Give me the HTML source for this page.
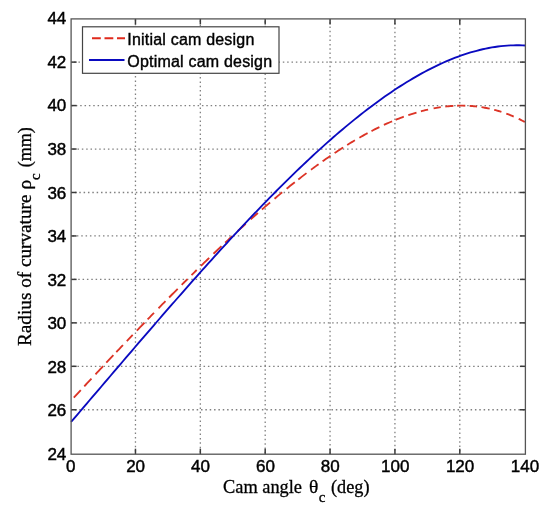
<!DOCTYPE html>
<html><head><meta charset="utf-8"><title>Radius of curvature vs cam angle</title><style>
html,body{margin:0;padding:0;background:#fff;}
svg{display:block;}
.tk{font-family:"Liberation Sans",Arial,sans-serif;font-size:17px;fill:#000;stroke:#000;stroke-width:0.45px;}
.lg{font-family:"Liberation Sans",Arial,sans-serif;font-size:16px;letter-spacing:0.2px;fill:#000;stroke:#000;stroke-width:0.4px;}
.lb{font-family:"Liberation Serif","Times New Roman",serif;font-size:19.5px;fill:#000;stroke:#000;stroke-width:0.3px;}
</style></head><body>
<svg width="550" height="513" viewBox="0 0 550 513">
<rect width="550" height="513" fill="#fff"/>
<g stroke="#808080" stroke-width="1.3" stroke-dasharray="1.5 2.848" fill="none">
<line x1="135.46" y1="18.90" x2="135.46" y2="454.20" stroke-dashoffset="3.726"/><line x1="200.33" y1="18.90" x2="200.33" y2="454.20" stroke-dashoffset="2.726"/><line x1="265.19" y1="18.90" x2="265.19" y2="454.20" stroke-dashoffset="1.878"/><line x1="330.06" y1="18.90" x2="330.06" y2="454.20" stroke-dashoffset="1.098"/><line x1="394.93" y1="18.90" x2="394.93" y2="454.20" stroke-dashoffset="0.288"/><line x1="459.80" y1="18.90" x2="459.80" y2="454.20" stroke-dashoffset="3.746"/><line x1="71.10" y1="62.11" x2="525.40" y2="62.11" stroke-dashoffset="1.342"/><line x1="71.10" y1="105.57" x2="525.40" y2="105.57" stroke-dashoffset="3.950"/><line x1="71.10" y1="149.03" x2="525.40" y2="149.03" stroke-dashoffset="2.310"/><line x1="71.10" y1="192.48" x2="525.40" y2="192.48" stroke-dashoffset="0.532"/><line x1="71.10" y1="235.94" x2="525.40" y2="235.94" stroke-dashoffset="2.900"/><line x1="71.10" y1="279.40" x2="525.40" y2="279.40" stroke-dashoffset="1.562"/><line x1="71.10" y1="322.86" x2="525.40" y2="322.86" stroke-dashoffset="4.160"/><line x1="71.10" y1="366.32" x2="525.40" y2="366.32" stroke-dashoffset="2.330"/><line x1="71.10" y1="409.77" x2="525.40" y2="409.77" stroke-dashoffset="0.532"/>
</g>
<g stroke="#3a3a3a" stroke-width="1.5" fill="none"><line x1="135.46" y1="454.20" x2="135.46" y2="448.70"/><line x1="135.46" y1="18.90" x2="135.46" y2="24.40"/><line x1="200.33" y1="454.20" x2="200.33" y2="448.70"/><line x1="200.33" y1="18.90" x2="200.33" y2="24.40"/><line x1="265.19" y1="454.20" x2="265.19" y2="448.70"/><line x1="265.19" y1="18.90" x2="265.19" y2="24.40"/><line x1="330.06" y1="454.20" x2="330.06" y2="448.70"/><line x1="330.06" y1="18.90" x2="330.06" y2="24.40"/><line x1="394.93" y1="454.20" x2="394.93" y2="448.70"/><line x1="394.93" y1="18.90" x2="394.93" y2="24.40"/><line x1="459.80" y1="454.20" x2="459.80" y2="448.70"/><line x1="459.80" y1="18.90" x2="459.80" y2="24.40"/><line x1="71.10" y1="409.77" x2="76.60" y2="409.77"/><line x1="525.40" y1="409.77" x2="519.90" y2="409.77"/><line x1="71.10" y1="366.32" x2="76.60" y2="366.32"/><line x1="525.40" y1="366.32" x2="519.90" y2="366.32"/><line x1="71.10" y1="322.86" x2="76.60" y2="322.86"/><line x1="525.40" y1="322.86" x2="519.90" y2="322.86"/><line x1="71.10" y1="279.40" x2="76.60" y2="279.40"/><line x1="525.40" y1="279.40" x2="519.90" y2="279.40"/><line x1="71.10" y1="235.94" x2="76.60" y2="235.94"/><line x1="525.40" y1="235.94" x2="519.90" y2="235.94"/><line x1="71.10" y1="192.48" x2="76.60" y2="192.48"/><line x1="525.40" y1="192.48" x2="519.90" y2="192.48"/><line x1="71.10" y1="149.03" x2="76.60" y2="149.03"/><line x1="525.40" y1="149.03" x2="519.90" y2="149.03"/><line x1="71.10" y1="105.57" x2="76.60" y2="105.57"/><line x1="525.40" y1="105.57" x2="519.90" y2="105.57"/><line x1="71.10" y1="62.11" x2="76.60" y2="62.11"/><line x1="525.40" y1="62.11" x2="519.90" y2="62.11"/></g>
<path d="M73.80,397.65 L75.20,396.14 L76.60,394.62 L78.00,393.11 L79.40,391.59 L80.80,390.08M84.30,386.30 L85.74,384.75 L87.18,383.20 L88.62,381.65 L90.06,380.10 L91.50,378.56M95.50,374.27 L97.02,372.64 L98.54,371.01 L100.06,369.39 L101.58,367.77 L103.10,366.15M106.30,362.74 L107.72,361.23 L109.14,359.72 L110.56,358.21 L111.98,356.71 L113.40,355.20M116.30,352.13 L117.64,350.72 L118.98,349.31 L120.32,347.89 L121.66,346.48 L123.00,345.07M126.80,341.08 L127.98,339.84 L129.16,338.61 L130.34,337.37 L131.52,336.14 L132.70,334.91M136.80,330.63 L138.34,329.03 L139.88,327.43 L141.42,325.83 L142.96,324.24 L144.50,322.64M147.60,319.44 L148.88,318.12 L150.16,316.80 L151.44,315.48 L152.72,314.17 L154.00,312.86M158.50,308.25 L159.90,306.82 L161.30,305.39 L162.70,303.97 L164.10,302.55 L165.50,301.12M169.10,297.48 L170.82,295.74 L172.54,294.01 L174.26,292.28 L175.98,290.55 L177.70,288.83M181.70,284.83 L182.86,283.67 L184.02,282.52 L185.18,281.37 L186.34,280.22 L187.50,279.07M191.50,275.12 L192.54,274.09 L193.58,273.07 L194.62,272.05 L195.66,271.03 L196.70,270.01M200.90,265.92 L202.56,264.30 L204.22,262.69 L205.88,261.09 L207.54,259.49 L209.20,257.89M213.50,253.77 L215.10,252.24 L216.70,250.72 L218.30,249.20 L219.90,247.68 L221.50,246.17M225.20,242.70 L226.60,241.39 L228.00,240.08 L229.40,238.77 L230.80,237.47 L232.20,236.18M237.80,231.02 L239.38,229.58 L240.96,228.14 L242.54,226.70 L244.12,225.27 L245.70,223.84M250.70,219.36 L252.14,218.08 L253.58,216.80 L255.02,215.53 L256.46,214.26 L257.90,212.99M261.90,209.50 L263.54,208.08 L265.18,206.66 L266.82,205.25 L268.46,203.85 L270.10,202.45M274.50,198.73 L276.04,197.44 L277.58,196.15 L279.12,194.87 L280.66,193.60 L282.20,192.33M286.60,188.73 L288.24,187.41 L289.88,186.09 L291.52,184.77 L293.16,183.47 L294.80,182.17M298.30,179.42 L299.94,178.15 L301.58,176.88 L303.22,175.62 L304.86,174.36 L306.50,173.12M311.00,169.74 L312.52,168.62 L314.04,167.50 L315.56,166.38 L317.08,165.28 L318.60,164.18M322.60,161.33 L324.18,160.21 L325.76,159.11 L327.34,158.01 L328.92,156.92 L330.50,155.84M334.60,153.08 L336.32,151.94 L338.04,150.80 L339.76,149.68 L341.48,148.57 L343.20,147.48M347.20,144.96 L348.74,144.01 L350.28,143.07 L351.82,142.14 L353.36,141.21 L354.90,140.30M359.40,137.68 L361.04,136.75 L362.68,135.83 L364.32,134.92 L365.96,134.02 L367.60,133.13M371.50,131.06 L373.08,130.25 L374.66,129.44 L376.24,128.65 L377.82,127.86 L379.40,127.09M383.90,124.95 L385.54,124.20 L387.18,123.46 L388.82,122.73 L390.46,122.02 L392.10,121.31M395.60,119.86 L397.24,119.20 L398.88,118.56 L400.52,117.93 L402.16,117.31 L403.80,116.71M408.30,115.12 L409.94,114.58 L411.58,114.04 L413.22,113.52 L414.86,113.02 L416.50,112.53M420.90,111.30 L422.34,110.92 L423.78,110.55 L425.22,110.20 L426.66,109.86 L428.10,109.53M433.60,108.39 L435.04,108.12 L436.48,107.87 L437.92,107.63 L439.36,107.40 L440.80,107.19M445.30,106.61 L446.92,106.43 L448.54,106.28 L450.16,106.14 L451.78,106.01 L453.40,105.91M457.10,105.74 L458.74,105.70 L460.38,105.68 L462.02,105.67 L463.66,105.69 L465.30,105.72M469.60,105.91 L471.08,106.01 L472.56,106.12 L474.04,106.25 L475.52,106.40 L477.00,106.57M481.50,107.18 L483.14,107.44 L484.78,107.72 L486.42,108.03 L488.06,108.36 L489.70,108.71M494.20,109.79 L495.64,110.18 L497.08,110.58 L498.52,110.99 L499.96,111.43 L501.40,111.89M506.30,113.57 L507.78,114.13 L509.26,114.70 L510.74,115.29 L512.22,115.91 L513.70,116.54M518.70,118.84 L519.94,119.44 L521.18,120.07 L522.42,120.70 L523.66,121.35 L524.90,122.02" fill="none" stroke="#dc3426" stroke-width="1.85"/>
<path d="M71.10,421.94 L74.15,418.37 L77.20,414.81 L80.25,411.24 L83.30,407.67 L86.34,404.09 L89.39,400.52 L92.44,396.95 L95.49,393.38 L98.54,389.80 L101.59,386.23 L104.64,382.66 L107.69,379.08 L110.74,375.51 L113.79,371.94 L116.83,368.38 L119.88,364.81 L122.93,361.25 L125.98,357.68 L129.03,354.12 L132.08,350.57 L135.13,347.02 L138.18,343.47 L141.23,339.92 L144.28,336.38 L147.32,332.84 L150.37,329.31 L153.42,325.78 L156.47,322.25 L159.52,318.74 L162.57,315.22 L165.62,311.72 L168.67,308.22 L171.72,304.72 L174.77,301.24 L177.81,297.76 L180.86,294.28 L183.91,290.82 L186.96,287.36 L190.01,283.91 L193.06,280.47 L196.11,277.04 L199.16,273.62 L202.21,270.21 L205.26,266.80 L208.30,263.41 L211.35,260.03 L214.40,256.66 L217.45,253.30 L220.50,249.95 L223.55,246.61 L226.60,243.28 L229.65,239.97 L232.70,236.67 L235.75,233.38 L238.79,230.11 L241.84,226.85 L244.89,223.60 L247.94,220.37 L250.99,217.16 L254.04,213.96 L257.09,210.77 L260.14,207.60 L263.19,204.45 L266.24,201.31 L269.28,198.19 L272.33,195.09 L275.38,192.00 L278.43,188.93 L281.48,185.89 L284.53,182.86 L287.58,179.85 L290.63,176.86 L293.68,173.89 L296.73,170.94 L299.77,168.01 L302.82,165.10 L305.87,162.21 L308.92,159.35 L311.97,156.51 L315.02,153.69 L318.07,150.90 L321.12,148.13 L324.17,145.39 L327.22,142.66 L330.26,139.97 L333.31,137.30 L336.36,134.66 L339.41,132.04 L342.46,129.45 L345.51,126.89 L348.56,124.36 L351.61,121.85 L354.66,119.38 L357.71,116.93 L360.75,114.52 L363.80,112.13 L366.85,109.78 L369.90,107.46 L372.95,105.17 L376.00,102.92 L379.05,100.69 L382.10,98.50 L385.15,96.35 L388.20,94.23 L391.24,92.15 L394.29,90.10 L397.34,88.09 L400.39,86.12 L403.44,84.18 L406.49,82.29 L409.54,80.43 L412.59,78.61 L415.64,76.83 L418.69,75.10 L421.73,73.40 L424.78,71.75 L427.83,70.14 L430.88,68.57 L433.93,67.05 L436.98,65.58 L440.03,64.14 L443.08,62.76 L446.13,61.42 L449.18,60.13 L452.22,58.89 L455.27,57.69 L458.32,56.55 L461.37,55.46 L464.42,54.41 L467.47,53.42 L470.52,52.49 L473.57,51.60 L476.62,50.77 L479.67,49.99 L482.71,49.27 L485.76,48.61 L488.81,48.00 L491.86,47.46 L494.91,46.97 L497.96,46.53 L501.01,46.16 L504.06,45.86 L507.11,45.61 L510.16,45.43 L513.20,45.30 L516.25,45.25 L519.30,45.26 L522.35,45.33 L525.40,45.48" fill="none" stroke="#0a0ac0" stroke-width="1.85" stroke-linejoin="round"/>
<rect x="71.10" y="18.90" width="454.30" height="435.30" fill="none" stroke="#555" stroke-width="1.3"/>
<g class="tk"><text x="70.70" y="472" text-anchor="middle">0</text><text x="135.60" y="472" text-anchor="middle">20</text><text x="200.50" y="472" text-anchor="middle">40</text><text x="265.40" y="472" text-anchor="middle">60</text><text x="330.30" y="472" text-anchor="middle">80</text><text x="395.20" y="472" text-anchor="middle">100</text><text x="460.10" y="472" text-anchor="middle">120</text><text x="525.00" y="472" text-anchor="middle">140</text><text x="66.3" y="459.70" text-anchor="end">24</text><text x="66.3" y="416.17" text-anchor="end">26</text><text x="66.3" y="372.64" text-anchor="end">28</text><text x="66.3" y="329.11" text-anchor="end">30</text><text x="66.3" y="285.58" text-anchor="end">32</text><text x="66.3" y="242.05" text-anchor="end">34</text><text x="66.3" y="198.52" text-anchor="end">36</text><text x="66.3" y="154.99" text-anchor="end">38</text><text x="66.3" y="111.46" text-anchor="end">40</text><text x="66.3" y="67.93" text-anchor="end">42</text><text x="66.3" y="24.40" text-anchor="end">44</text></g>
<rect x="82.5" y="26.8" width="196.5" height="46.5" fill="#fff" stroke="#444" stroke-width="1.2"/>
<line x1="92" y1="38.3" x2="125" y2="38.3" stroke="#e02a1c" stroke-width="2" stroke-dasharray="8.8 3.7"/>
<line x1="89" y1="59.9" x2="124.5" y2="59.9" stroke="#0a0ac0" stroke-width="2"/>
<text class="lg" x="127.3" y="45">Initial cam design</text>
<text class="lg" x="127.3" y="66.5">Optimal cam design</text>
<g class="lb">
<text x="223" y="492.8" textLength="79" lengthAdjust="spacingAndGlyphs">Cam angle</text>
<text x="309" y="492.8">θ</text>
<text x="318.7" y="501.5" font-size="15">c</text>
<text x="331" y="492.8" textLength="38.5" lengthAdjust="spacingAndGlyphs">(deg)</text>
<g transform="translate(30.7,0) rotate(-90)">
<text x="-346" y="0" textLength="151.5" lengthAdjust="spacingAndGlyphs">Radius of curvature</text>
<text x="-189.5" y="0">ρ</text>
<text x="-180" y="9.5" font-size="15">c</text>
<text x="-167.3" y="0" textLength="40" lengthAdjust="spacingAndGlyphs">(mm)</text>
</g>
</g>
</svg>
</body></html>
